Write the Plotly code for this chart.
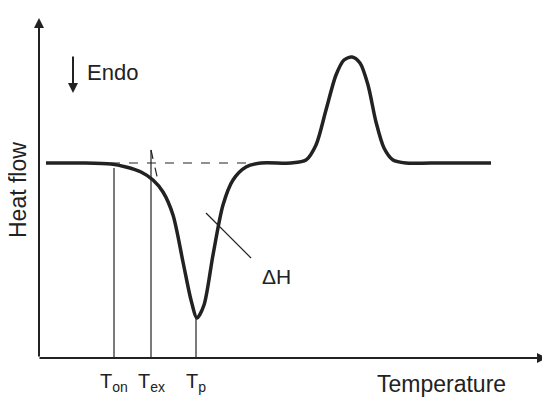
import plotly.graph_objects as go

# DSC curve (pixel-like units, y grows downward)
curve_x = [45, 80, 110, 125, 140, 152, 162, 172, 182, 190, 196, 203, 212, 222, 232, 245, 260, 290, 305, 315, 325, 335, 343, 351, 359, 367, 375, 383, 392, 405, 430, 490]
curve_y = [163, 163, 164, 167, 172, 180, 192, 215, 262, 300, 318, 305, 255, 205, 180, 167, 163, 163, 160, 145, 110, 75, 60, 57, 63, 85, 122, 148, 160, 163, 163, 163]

marker_x = [113, 150, 195]
marker_top = [168, 150, 318]
marker_labels = ["T<sub>on</sub>", "T<sub>ex</sub>", "T<sub>p</sub>"]

ink = "#222"
fig = go.Figure()
fig.add_trace(go.Scatter(x=curve_x, y=curve_y, mode="lines",
                         line=dict(color=ink, width=3.5, shape="spline", smoothing=0.8)))

# baseline and onset tangent
fig.add_shape(type="line", x0=110, y0=163, x1=262, y1=163, line=dict(color=ink, width=1.2, dash="dash"))
fig.add_shape(type="line", x0=150, y0=150, x1=158, y1=185, line=dict(color=ink, width=1.2, dash="dash"))

# vertical markers
for mx, top, lab in zip(marker_x, marker_top, marker_labels):
    fig.add_shape(type="line", x0=mx, y0=top, x1=mx, y1=358, line=dict(color=ink, width=1.2))
    fig.add_annotation(x=mx, y=382, text=lab, showarrow=False, font=dict(size=20, color=ink))

# delta H leader
fig.add_shape(type="line", x0=205, y0=213, x1=250, y1=258, line=dict(color=ink, width=1.2))
fig.add_annotation(x=275, y=276, text="ΔH", showarrow=False, font=dict(size=21, color=ink))

# axes with arrowheads
fig.add_annotation(x=38, y=18, ax=38, ay=358, xref="x", yref="y", axref="x", ayref="y",
                   showarrow=True, arrowhead=2, arrowsize=1, arrowwidth=2, arrowcolor=ink, text="")
fig.add_annotation(x=546, y=358, ax=37, ay=358, xref="x", yref="y", axref="x", ayref="y",
                   showarrow=True, arrowhead=2, arrowsize=1, arrowwidth=2, arrowcolor=ink, text="")

# Endo arrow
fig.add_annotation(x=72, y=93, ax=72, ay=55, xref="x", yref="y", axref="x", ayref="y",
                   showarrow=True, arrowhead=2, arrowsize=1, arrowwidth=2, arrowcolor=ink, text="")
fig.add_annotation(x=84, y=72, text="Endo", showarrow=False, xanchor="left", font=dict(size=22, color=ink))

fig.add_annotation(x=17, y=190, text="Heat flow", showarrow=False, textangle=-90, font=dict(size=23, color=ink))
fig.add_annotation(x=440, y=384, text="Temperature", showarrow=False, font=dict(size=23, color=ink))

fig.update_layout(width=550, height=416, margin=dict(l=0, r=0, t=0, b=0),
                  plot_bgcolor="white", paper_bgcolor="white", showlegend=False,
                  font=dict(family="Liberation Sans, Arial"))
fig.update_xaxes(range=[7, 557], visible=False)
fig.update_yaxes(range=[424, 8], visible=False)

fig.write_html("out.html")
